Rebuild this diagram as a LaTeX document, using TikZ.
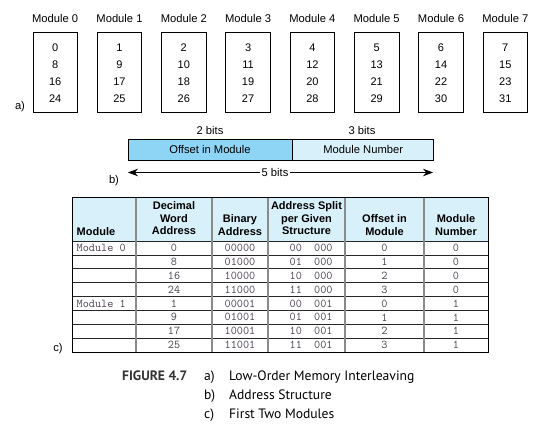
\documentclass[tikz,border=0pt]{standalone}
\usepackage{fontspec}
\setmainfont{Liberation Sans}
\newfontfamily\capfont{PT Sans}
\usetikzlibrary{arrows.meta}
\definecolor{fieldA}{HTML}{8ED4F5}
\definecolor{fieldB}{HTML}{D8F0FA}
\definecolor{headfill}{HTML}{D8F0FA}
\definecolor{bodytext}{HTML}{4A4050}
\definecolor{gridgrey}{HTML}{8A8A8A}
\begin{document}
\begin{tikzpicture}[x=1pt,y=-1pt,
  lbl/.style={font=\fontsize{11.2}{12}\selectfont, inner sep=0pt},
  modbox/.style={draw=black, line width=0.9pt, minimum width=44.5pt, minimum height=80pt, inner sep=0pt},
  numtxt/.style={font=\fontsize{11}{12}\selectfont, inner sep=0pt},
  fieldbox/.style={draw=black, line width=0.7pt, minimum height=21pt, inner sep=0pt, font=\fontsize{11.2}{12}\selectfont},
  hdr/.style={font=\bfseries\fontsize{11}{12.5}\selectfont, align=center, inner sep=0pt},
  cell/.style={font=\ttfamily\fontsize{11.9}{12}\selectfont, text=bodytext, inner sep=0pt},
  vgrid/.style={draw=gridgrey, line width=1.6pt},
  hgrid/.style={draw=black!85, line width=0.6pt},
  captxt/.style={font=\capfont\fontsize{13.6}{15}\selectfont, inner sep=0pt, anchor=base west},
  arr/.style={-{Stealth[length=10pt,width=7.5pt]}, line width=0.7pt}
]
\useasboundingbox (0,0) rectangle (552,436);

% ---- a) modules ----
\foreach \i in {0,...,7}{
  \pgfmathsetmacro{\cx}{55.2+64.3*\i}
  \node[lbl] (ml\i) at (\cx,18) {Module \i};
  \node[modbox] (m\i) at (\cx,72) {};
  \foreach \k in {0,...,3}{
    \pgfmathtruncatemacro{\val}{\i+8*\k}
    \pgfmathsetmacro{\yy}{48+17*\k}
    \node[numtxt] (n\i-\k) at (\cx,\yy) {\val};
  }
}
\node[lbl] (la) at (20,107) {a)};

% ---- b) address structure ----
\node[fieldbox, fill=fieldA, minimum width=164pt] (off) at (210,149.5) {Offset in Module};
\node[fieldbox, fill=fieldB, minimum width=141pt, anchor=west] (modn) at (off.east) {Module Number};
\node[lbl] (twob) at (210,130) {2 bits};
\node[lbl] (threeb) at (362,130) {3 bits};
\coordinate (al) at (128,172.5);
\coordinate (ar) at (433,172.5);
\node[lbl, inner xsep=1pt] (five) at (275,172.5) {5 bits};
\draw[arr] (five.west) -- (al);
\draw[arr] (five.east) -- (ar);
\node[lbl] (lb) at (114,181) {b)};

% ---- c) table ----
\def\ttop{197}
\def\hbot{241}
\def\rh{13.875}
\fill[headfill] (72,\ttop) rectangle (488,\hbot);
\foreach \k in {1,...,7}{
  \pgfmathsetmacro{\yy}{\hbot+\rh*\k}
  \draw[hgrid] (72,\yy) -- (488,\yy);
}
\draw[hgrid] (72,\hbot) -- (488,\hbot);
\foreach \xx in {136,212,268,345,424}{
  \draw[vgrid] (\xx,\ttop) -- (\xx,352);
}
\draw[black, line width=1pt] (72,\ttop) rectangle (488,352);

% headers
\node[hdr, anchor=base west] (h1) at (76.5,235) {Module};
\node[hdr] (h2) at (174,218.5) {Decimal\\Word\\Address};
\node[hdr] (h3) at (240,225) {Binary\\Address};
\node[hdr] (h4) at (306.5,218.5) {Address Split\\per Given\\Structure};
\node[hdr] (h5) at (384.5,225) {Offset in\\Module};
\node[hdr] (h6) at (456,225) {Module\\Number};

% body
\foreach \k/\mname/\dec/\bin/\spl/\ofs/\mnum in {
  0/Module 0/0/00000/00\ \ 000/0/0,
  1//8/01000/01\ \ 000/1/0,
  2//16/10000/10\ \ 000/2/0,
  3//24/11000/11\ \ 000/3/0,
  4/Module 1/1/00001/00\ \ 001/0/1,
  5//9/01001/01\ \ 001/1/1,
  6//17/10001/10\ \ 001/2/1,
  7//25/11001/11\ \ 001/3/1}{
  \pgfmathsetmacro{\yy}{\hbot+\rh*(\k+0.5)}
  \node[cell, anchor=west] (c\k-1) at (76.5,\yy) {\mname};
  \node[cell] (c\k-2) at (174,\yy) {\dec};
  \node[cell] (c\k-3) at (240,\yy) {\bin};
  \node[cell, anchor=west] (c\k-4) at (289.5,\yy) {\spl};
  \node[cell] (c\k-5) at (384.5,\yy) {\ofs};
  \node[cell] (c\k-6) at (456,\yy) {\mnum};
}
\node[lbl] (lc) at (58,349) {c)};

% ---- caption ----
\node[captxt, font=\capfont\bfseries\fontsize{13.6}{15}\selectfont, text=black!80] (fig) at (122,380.5) {FIGURE 4.7};
\node[captxt] (ca) at (204,380.5) {a)};
\node[captxt] (ta) at (229,380.5) {Low-Order Memory Interleaving};
\node[captxt] (cb) at (204,399) {b)};
\node[captxt] (tb) at (229,399) {Address Structure};
\node[captxt] (cc) at (204,418) {c)};
\node[captxt] (tc) at (229,418) {First Two Modules};
\end{tikzpicture}
\end{document}
